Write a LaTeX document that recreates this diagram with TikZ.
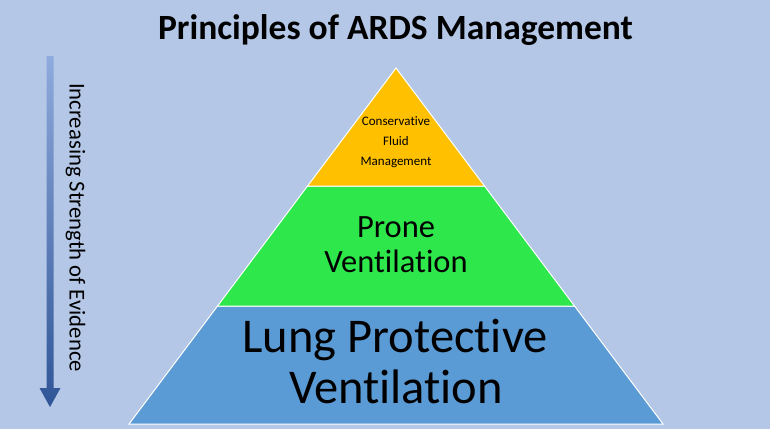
\documentclass[tikz,border=0pt]{standalone}
\usepackage{fontspec}
\setmainfont{Carlito}[Ligatures={NoCommon}, RawFeature={-liga;-clig;-calt;-dlig}]
\definecolor{bgblue}{HTML}{B4C7E7}
\definecolor{tierorange}{HTML}{FFC000}
\definecolor{tiergreen}{HTML}{2EE84B}
\definecolor{tierblue}{HTML}{5B9BD5}
\definecolor{arrowlight}{HTML}{8FAADC}
\definecolor{arrowdark}{HTML}{2F5597}
\tikzset{
  tier/.style={draw=white, line width=1pt, line join=miter},
  lbl/.style={anchor=base, inner sep=0pt, text=black},
}
\begin{document}
\begin{tikzpicture}[x=1pt,y=-1pt]
\fill[bgblue] (0,0) rectangle (770,429);
\useasboundingbox (0,0) rectangle (770,429);
% title
\node[lbl, font=\fontsize{35.5}{40}\selectfont\bfseries] (title) at (395.5,39.5) {Principles of ARDS Management};
% evidence arrow
\shade[top color=arrowlight, bottom color=arrowdark]
  (46.5,56) -- (53.5,56) -- (53.5,388) -- (60.5,388) -- (50,407) -- (39.5,388) -- (46.5,388) -- cycle;
\node[lbl, rotate=-90, font=\fontsize{22.7}{26}\selectfont] (evid) at (69.5,227.5) {Increasing Strength of Evidence};
% pyramid tiers
\coordinate (apex) at (396,68);
\coordinate (tl) at (307.5,186);
\coordinate (tr) at (484.5,186);
\coordinate (ml) at (217.5,306);
\coordinate (mr) at (574.5,306);
\coordinate (bl) at (129,424);
\coordinate (br) at (663,424);
\filldraw[tier, fill=tierblue] (ml) -- (mr) -- (br) -- (bl) -- cycle;
\filldraw[tier, fill=tiergreen] (tl) -- (tr) -- (mr) -- (ml) -- cycle;
\filldraw[tier, fill=tierorange] (apex) -- (tr) -- (tl) -- cycle;
% labels
\node[lbl, font=\fontsize{13}{20}\selectfont] (c1) at (396,125) {Conservative};
\node[lbl, font=\fontsize{13}{20}\selectfont] (c2) at (396,145) {Fluid};
\node[lbl, font=\fontsize{13}{20}\selectfont] (c3) at (396,165) {Management};
\node[lbl, font=\fontsize{32.5}{35}\selectfont] (p1) at (396,237) {Prone};
\node[lbl, font=\fontsize{32.5}{35}\selectfont] (p2) at (396,272) {Ventilation};
\node[lbl, font=\fontsize{48.5}{51}\selectfont] (l1) at (395,352) {Lung Protective};
\node[lbl, font=\fontsize{48.5}{51}\selectfont] (l2) at (396,403) {Ventilation};
\end{tikzpicture}
\end{document}
